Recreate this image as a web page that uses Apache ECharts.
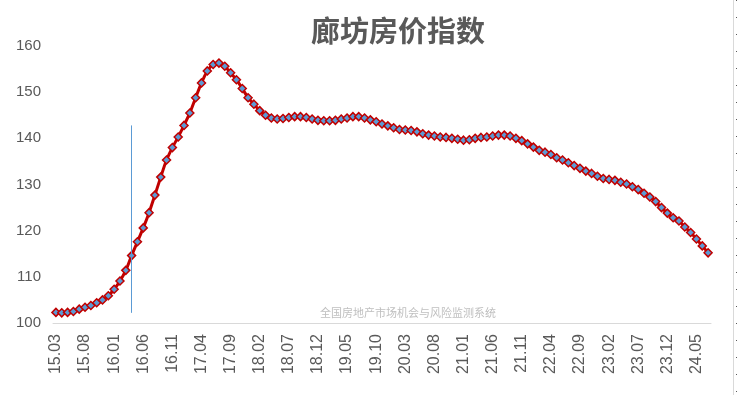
<!DOCTYPE html>
<html>
<head>
<meta charset="utf-8">
<script src="https://cdn.jsdelivr.net/npm/echarts@6/dist/echarts.min.js"></script>
<style>
  html, body { margin: 0; padding: 0; background: #fff; }
  #chart { width: 737px; height: 395px; }
</style>
</head>
<body>
<div id="chart"></div>
<script>
// 月份标签 15.03 ~ 24.07
const months = [];
for (let y = 15; y <= 24; y++) {
  for (let m = 1; m <= 12; m++) {
    if (y === 15 && m < 3) continue;
    if (y === 24 && m > 7) continue;
    months.push(y + "." + String(m).padStart(2, "0"));
  }
}

const priceIndex = [
  102.3, 102.2, 102.3, 102.5, 103.0, 103.4, 103.8, 104.4, 105.0, 105.9, 107.3, 109.1, 111.4, 114.6, 117.6, 120.6, 123.9, 127.7,
  131.6, 135.3, 138.0, 140.3, 142.8, 145.5, 148.8, 152.0, 154.6, 156.0, 156.3, 155.6, 154.2, 152.7, 150.8, 148.8, 147.4, 146.0, 145.0, 144.4,
  144.2, 144.3, 144.5, 144.7, 144.7, 144.5, 144.2, 143.9, 143.8, 143.8, 143.9, 144.2, 144.4, 144.7, 144.7, 144.4, 144.0, 143.6, 143.1,
  142.7, 142.3, 141.9, 141.8, 141.7, 141.4, 141.0, 140.7, 140.5, 140.3, 140.2, 140.0, 139.8, 139.6, 139.7, 140.0, 140.2, 140.3, 140.5,
  140.7, 140.7, 140.5, 140.0, 139.5, 138.8, 138.1, 137.4, 137.0, 136.5, 135.8, 135.3, 134.7, 134.1, 133.5, 132.9, 132.4, 131.8, 131.3,
  131.1, 130.9, 130.5, 130.1, 129.5, 128.9, 128.1, 127.3, 126.3, 125.0, 123.8, 122.8, 122.1, 120.8, 119.6, 118.2, 116.7, 115.2
];

// 竖线位置
const markMonth = "16.04";
const markRange = [102.2, 142.8];

const chart = echarts.init(document.getElementById("chart"));
chart.setOption({
  animation: false,
  title: {
    text: "廊坊房价指数",
    left: 306,
    top: 11,
    textStyle: {
      fontFamily: "Noto Sans CJK SC",
      fontSize: 29,
      fontWeight: "bold",
      color: "#595959",
    },
  },
  graphic: [
    {
      type: "text",
      left: 320,
      top: 307,
      style: {
        text: "全国房地产市场机会与风险监测系统",
        font: "11px 'Noto Sans CJK SC'",
        fill: "#bfbfbf",
      },
    },
    {
      type: "line",
      shape: { x1: 733.5, y1: 0, x2: 733.5, y2: 395 },
      style: { stroke: "#d9d9d9", lineWidth: 1 },
    },
    {
      type: "line",
      shape: { x1: 736.5, y1: 0, x2: 736.5, y2: 395 },
      style: { stroke: "#595959", lineWidth: 1, lineDash: [1, 16] },
    },
  ],
  grid: { left: 53, right: 26, top: 46, bottom: 72 },
  xAxis: {
    type: "category",
    data: months,
    boundaryGap: true,
    axisLine: { lineStyle: { color: "#d9d9d9", width: 1 } },
    axisTick: { show: false },
    axisLabel: {
      interval: 4,
      rotate: 90,
      margin: 11,
      fontFamily: "Liberation Sans",
      fontSize: 16,
      color: "#595959",
    },
  },
  yAxis: {
    type: "value",
    min: 100,
    max: 160,
    interval: 10,
    axisLine: { show: false },
    axisTick: { show: false },
    splitLine: { show: false },
    axisLabel: {
      margin: 12,
      fontFamily: "Liberation Sans",
      fontSize: 15,
      color: "#595959",
    },
  },
  series: [
    {
      type: "line",
      data: priceIndex,
      smooth: 0.3,
      symbol: "diamond",
      symbolSize: 8,
      showAllSymbol: true,
      lineStyle: { color: "#c00000", width: 3 },
      itemStyle: { color: "#5b9bd5", borderColor: "#c00000", borderWidth: 1.5 },
      markLine: {
        silent: true,
        symbol: "none",
        label: { show: false },
        lineStyle: { color: "#5b9bd5", width: 1, type: "solid" },
        data: [
          [
            { coord: [markMonth, markRange[0]] },
            { coord: [markMonth, markRange[1]] },
          ],
        ],
      },
    },
  ],
});
</script>
</body>
</html>
